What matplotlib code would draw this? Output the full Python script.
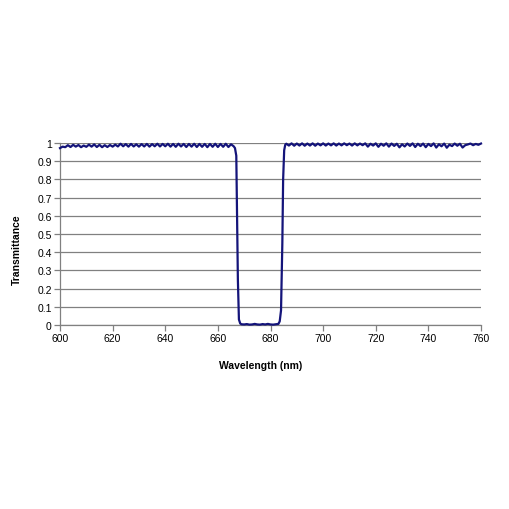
import matplotlib
matplotlib.use("Agg")
import matplotlib.pyplot as plt

wl_left = list(range(600, 667))
t_left = [.972, .980, .977, .988, .978, .990, .980, .989, .977, .986,
          .979, .991, .980, .992, .978, .990, .977, .988, .978, .989,
          .980, .991, .981, .996, .982, .994, .980, .995, .981, .993,
          .980, .994, .981, .995, .980, .994, .982, .996, .981, .995,
          .982, .996, .980, .995, .979, .996, .981, .995, .978, .995,
          .980, .996, .978, .995, .979, .995, .977, .995, .979, .996,
          .978, .995, .979, .996, .978, .993, .982]
wl_fall = [666.5, 667.0, 667.3, 667.6, 668.0, 668.5, 669.0]
t_fall = [.972, .93, .6, .25, .03, .008, .004]
wl_low = list(range(670, 684))
t_low = [.003, .005, .002, .003, .006, .003, .002, .005, .003, .006, .003, .002, .004, .006]
wl_rise = [683.5, 684.0, 684.5, 684.8, 685.2, 685.6]
t_rise = [.02, .08, .45, .8, .96, .99]
wl_right = list(range(686, 761))
t_right = [.996, .986, .998, .985, .997, .986, .998, .985, .997, .986,
           .998, .985, .997, .987, .998, .986, .997, .987, .998, .986,
           .997, .987, .998, .988, .997, .986, .998, .987, .997, .988,
           .998, .980, .996, .986, .998, .979, .996, .985, .998, .980,
           .997, .984, .996, .976, .993, .981, .997, .984, .998, .978,
           .996, .983, .997, .977, .995, .983, .998, .975, .993, .982,
           .997, .974, .991, .983, .997, .985, .996, .975, .988, .992,
           .997, .988, .995, .990, .997]

x_ticks = [600, 620, 640, 660, 680, 700, 720, 740, 760]
y_ticks = [0, 0.1, 0.2, 0.3, 0.4, 0.5, 0.6, 0.7, 0.8, 0.9, 1]
y_tick_labels = ["0", "0.1", "0.2", "0.3", "0.4", "0.5", "0.6", "0.7", "0.8", "0.9", "1"]

wl = wl_left + wl_fall + wl_low + wl_rise + wl_right
tr = t_left + t_fall + t_low + t_rise + t_right

plt.rcParams['font.family'] = ['Liberation Sans', 'DejaVu Sans']
fig = plt.figure(figsize=(5.1, 5.1), dpi=100)
ax = fig.add_axes([60/510, 1-326/510, 421/510, 182/510])
ax.plot(wl, tr, color='#14147a', lw=1.6, zorder=3, clip_on=False)
ax.set_xlim(600, 760)
ax.set_ylim(0, 1)
ax.set_xticks(x_ticks)
ax.set_yticks(y_ticks)
ax.set_yticklabels(y_tick_labels)
ax.grid(axis='y', color='#808080', lw=0.9)
ax.set_axisbelow(True)
for s in ['top', 'right']:
    ax.spines[s].set_visible(False)
for s in ['left', 'bottom']:
    ax.spines[s].set_color('#808080')
    ax.spines[s].set_linewidth(0.9)
ax.tick_params(axis='both', direction='out', length=4, width=0.9, color='#808080',
               labelsize=7.5, labelcolor='black', pad=2)
fig.text(261/510, 1-366/510, 'Wavelength (nm)', fontsize=7.5, fontweight='bold',
         ha='center', va='center')
fig.text(17/510, 1-250/510, 'Transmittance', fontsize=7.5, fontweight='bold',
         ha='center', va='center', rotation=90)
fig.savefig('out.png', dpi=100, facecolor='white')
